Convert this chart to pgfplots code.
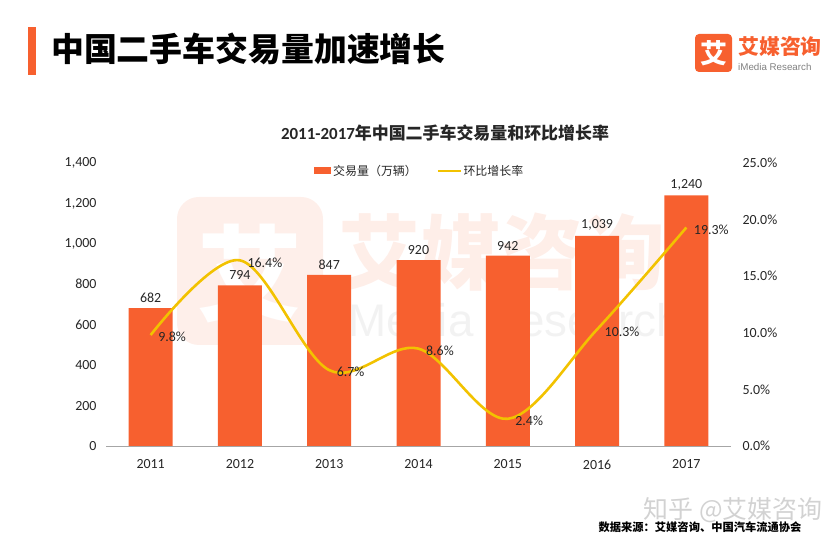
\documentclass[border=0pt]{standalone}
\usepackage{fontspec}
\setmainfont{Carlito}
\newfontfamily\cjk{Noto Sans CJK SC}
\newfontfamily\arial{Liberation Sans}
\usepackage{pgfplots}
\pgfplotsset{compat=1.18}
\definecolor{barc}{HTML}{F7602F}
\definecolor{linec}{HTML}{F2C200}
\definecolor{txt}{HTML}{262626}
\begin{document}
\begin{tikzpicture}[x=1bp,y=1bp]
\useasboundingbox (0,0) rectangle (840,546);
% watermark
\fill[barc, opacity=0.10, rounded corners=22] (177,201) rectangle (323,349);
\node[white] at (250,272) {\cjk\bfseries\fontsize{105}{105}\selectfont 艾};
\node[anchor=west, text=barc, opacity=0.11] at (335,294) {\cjk\bfseries\fontsize{82}{82}\selectfont 艾媒咨询};
\node[anchor=west, text=gray, opacity=0.10] at (335,226) {\arial\fontsize{46}{46}\selectfont iMedia Research};
% main title
\fill[barc] (28,471) rectangle (36,519);
\node[anchor=west, inner sep=0] at (51,497) {\cjk\bfseries\fontsize{33}{33}\selectfont 中国二手车交易量加速增长};
% logo
\fill[barc, rounded corners=4] (695,474) rectangle (732,512);
\node[white] at (713.5,493) {\cjk\bfseries\fontsize{27}{27}\selectfont 艾};
\node[anchor=west, inner sep=0, text=barc] at (738,500) {\cjk\bfseries\fontsize{21}{21}\selectfont 艾媒咨询};
\node[anchor=west, inner sep=0, text=gray] at (738,479) {\arial\fontsize{9.8}{10}\selectfont iMedia Research};
% chart title
\node[text=txt] at (445,413) {\bfseries\fontsize{17}{18}\selectfont 2011-2017{\cjk 年中国二手车交易量和环比增长率}};
% bottom texts
\node[text=gray!35] at (733,36) {\cjk\fontsize{25}{25}\selectfont 知乎 @艾媒咨询};
\node[text=black] at (700,19) {\cjk\bfseries\fontsize{11.3}{12}\selectfont 数据来源：艾媒咨询、中国汽车流通协会};

\begin{axis}[
  at={(106bp,100bp)}, anchor=south west,
  width=625bp, height=283bp, scale only axis,
  xmin=-0.5, xmax=6.5, ymin=0, ymax=1400,
  axis x line*=bottom, axis y line*=left,
  y axis line style={draw=none},
  x axis line style={draw=gray!70, line width=0.8pt, -},
  ytick={0,200,...,1400}, ytick style={draw=none},
  xtick={0,...,6}, xticklabels={2011,2012,2013,2014,2015,2016,2017},
  major x tick style={draw=none},
  extra x ticks={-0.5,0.5,1.5,2.5,3.5,4.5,5.5,6.5},
  extra x tick labels={},
  extra x tick style={tick align=outside, major tick length=5bp, tick style={draw=gray!70, line width=0.8pt}},
  tick label style={font=\fontsize{14}{16}\selectfont, text=txt},
  /pgf/number format/assume math mode=true,
  /pgf/number format/1000 sep={,},
  yticklabel style={xshift=-6bp},
  xticklabel style={yshift=-6bp},
  ybar, bar width=44bp,
  clip=false,
  nodes near coords,
  nodes near coords style={font=\fontsize{14}{16}\selectfont, text=txt, yshift=2bp},
  legend style={at={(0.502,0.972)}, anchor=center, legend columns=2, draw=none, fill=none,
    font=\cjk\fontsize{12}{14}\selectfont, text=txt,
    /tikz/every even column/.append style={column sep=18bp}},
  legend image code/.code={\fill[barc] (0cm,-0.12cm) rectangle (0.6cm,0.14cm);},
]
\addplot[fill=barc, draw=none] coordinates {(0,682) (1,794) (2,847) (3,920) (4,942) (5,1039) (6,1240)};
\addlegendentry{交易量（万辆）}
\addlegendimage{legend image code/.code={\draw[linec, line width=2pt] (0cm,0cm) -- (0.8cm,0cm);}}
\addlegendentry{环比增长率}
\end{axis}

\begin{axis}[
  at={(106bp,100bp)}, anchor=south west,
  width=625bp, height=283bp, scale only axis,
  xmin=-0.5, xmax=6.5, ymin=0, ymax=25,
  axis x line=none, axis y line*=right,
  y axis line style={draw=none},
  ytick={0,5,...,25}, ytick style={draw=none},
  yticklabel={\pgfmathprintnumber[fixed,fixed zerofill,precision=1]{\tick}\%},
  yticklabel style={xshift=8bp},
  tick label style={font=\fontsize{14}{16}\selectfont, text=txt},
  /pgf/number format/assume math mode=true,
  clip=false,
]
\addplot[linec, line width=2.6pt, smooth, tension=0.55,
  nodes near coords={\pgfmathprintnumber[fixed,fixed zerofill,precision=1,assume math mode=true]{\pgfplotspointmeta}\%},
  nodes near coords style={anchor=west, font=\fontsize{14}{16}\selectfont, text=txt, xshift=3bp, yshift=-2bp},
  point meta=explicit]
  coordinates {(0,9.8)[9.8] (1,16.4)[16.4] (2,6.7)[6.7] (3,8.6)[8.6] (4,2.4)[2.4] (5,10.3)[10.3] (6,19.3)[19.3]};
\end{axis}
\end{tikzpicture}
\end{document}
